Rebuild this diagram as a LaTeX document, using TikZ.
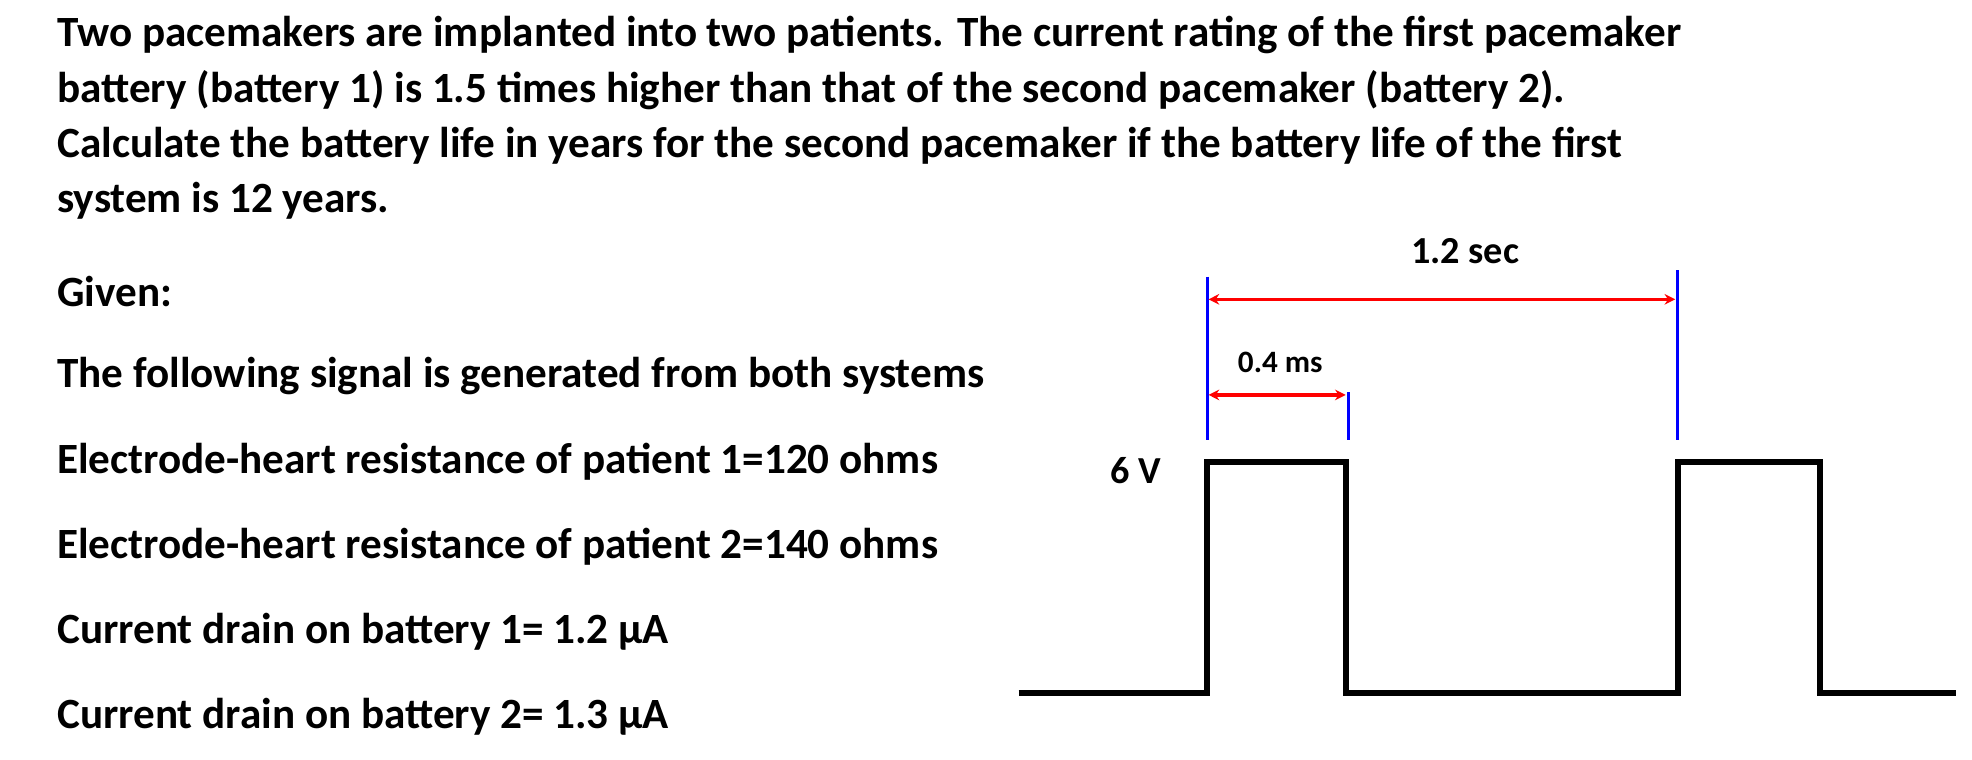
\documentclass[tikz,border=0pt]{standalone}
\usepackage{fontspec}
\setmainfont{Carlito}
\usetikzlibrary{arrows.meta}
\begin{document}
\begin{tikzpicture}[x=0.0125cm,y=-0.0125cm,
  txt/.style={anchor=west,inner sep=0pt,font=\fontsize{12.2pt}{14pt}\selectfont\bfseries},
  lbl/.style={inner sep=0pt,font=\fontsize{10.8pt}{12pt}\selectfont\bfseries},
  small/.style={inner sep=0pt,font=\fontsize{8.8pt}{10pt}\selectfont\bfseries},
  marker/.style={draw=blue,line width=0.9pt},
  dim/.style={draw=red,line width=0.9pt,{Stealth[length=3pt,width=3pt]}-{Stealth[length=3pt,width=3pt]}},
  sig/.style={line width=1.7pt}]
\useasboundingbox (0,0) rectangle (1568,604);
\node[txt] (l1) at (45,28) {Two pacemakers are implanted into two patients. The current rating of the first pacemaker};
\node[txt] (l2) at (45,72) {battery (battery 1) is 1.5 times higher than that of the second pacemaker (battery 2).};
\node[txt] (l3) at (45,116) {Calculate the battery life in years for the second pacemaker if the battery life of the first};
\node[txt] (l4) at (45,160) {system is 12 years.};
\node[txt] (g) at (45,232) {Given:};
\node[txt] (f) at (45,299) {The following signal is generated from both systems};
\node[txt] (e1) at (45,367) {Electrode-heart resistance of patient 1=120 ohms};
\node[txt] (e2) at (45,435) {Electrode-heart resistance of patient 2=140 ohms};
\node[txt] (c1) at (45,502) {Current drain on battery 1= 1.2 µA};
\node[txt] (c2) at (45,570) {Current drain on battery 2= 1.3 µA};
\node[lbl] (sec) at (1165,200) {1.2 sec};
\node[small] (ms) at (1018,288) {0.4 ms};
\node[lbl] (v) at (903,374) {6 V};
\coordinate (b1t) at (960,220); \coordinate (b1b) at (960,350);
\coordinate (b2t) at (1334,215); \coordinate (b2b) at (1334,350);
\coordinate (b3t) at (1072,312); \coordinate (b3b) at (1072,350);
\draw[marker] (b1t) -- (b1b);
\draw[marker] (b2t) -- (b2b);
\draw[marker] (b3t) -- (b3b);
\coordinate (a1) at (961,238); \coordinate (a2) at (1332,238);
\coordinate (a3) at (961,314); \coordinate (a4) at (1070,314);
\draw[dim] (a1) -- (a2);
\draw[dim] (a3) -- (a4);
\draw[sig,line join=miter] (810,551) -- (960,551) -- (960,367) -- (1070,367) -- (1070,551) -- (1334,551) -- (1334,367) -- (1447,367) -- (1447,551) -- (1555,551);
\end{tikzpicture}
\end{document}
